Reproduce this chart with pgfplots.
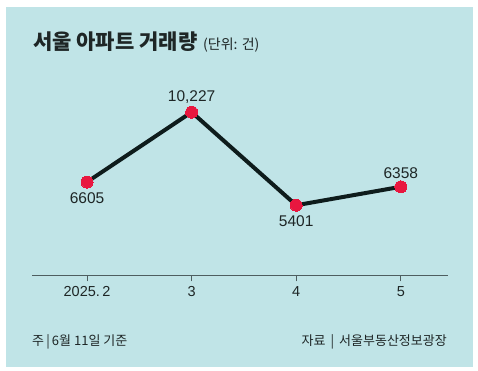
\documentclass[border=0pt]{standalone}
\usepackage{fontspec}
\setmainfont{Noto Sans CJK KR}
\newfontfamily\numfont{Liberation Sans}
\usepackage{pgfplots}
\pgfplotsset{compat=1.18}
\definecolor{bgc}{HTML}{C0E4E7}
\definecolor{linec}{HTML}{0E1C1C}
\definecolor{dotc}{HTML}{E8173F}
\definecolor{axc}{HTML}{4E5E60}
\definecolor{txt}{HTML}{1E2626}
\begin{document}
\begin{tikzpicture}[x=1pt,y=1pt]
\fill[white] (0,0) rectangle (478,371);
\fill[bgc] (6,4) rectangle (473,364);
\node[anchor=base west, inner sep=0, text=txt] at (33,321) {\fontsize{21}{24}\selectfont\bfseries 서울 아파트 거래량};
\node[anchor=base west, inner sep=0, text=txt] at (203,321) {\fontsize{14}{16}\selectfont (단위: 건)};
\node[anchor=base west, inner sep=0, text=txt] at (32,25) {\fontsize{13}{15}\selectfont 주{\,}|{\,}6월 11일 기준};
\node[anchor=base east, inner sep=0, text=txt] at (447,25) {\fontsize{13}{15}\selectfont 자료 \,|\, 서울부동산정보광장};
\begin{axis}[
  at={(32.3pt,95.7pt)}, anchor=south west,
  scale only axis, width=415.4pt, height=180pt,
  xmin=-0.523, xmax=3.448,
  ymin=1770, ymax=11100,
  axis x line=bottom, axis y line=none,
  axis line style={-, axc, line width=0.8pt},
  xtick={0,1,2,3},
  xticklabels={{2025.\,2},3,4,5},
  tick align=outside,
  major tick length=6pt,
  xtick style={axc, line width=0.8pt},
  x tick label style={font=\numfont\fontsize{14.5}{16}\selectfont, text=txt, yshift=-2pt},
  /pgf/number format/assume math mode=true,
  clip=false,
]
\addplot[linec, line width=4pt, no marks] coordinates {(0,6605) (1,10227) (2,5401) (3,6358)};
\addplot[only marks, mark=*, mark size=6pt, draw=dotc, fill=dotc, mark options={draw=dotc, fill=dotc, line width=0pt}] coordinates {(0,6605) (1,10227) (2,5401) (3,6358)};
\node[text=txt, font=\numfont\fontsize{15.5}{17}\selectfont] at (axis cs:0,6605) [yshift=-16.5pt] {6605};
\node[text=txt, font=\numfont\fontsize{15.5}{17}\selectfont] at (axis cs:1,10227) [yshift=15pt] {10,227};
\node[text=txt, font=\numfont\fontsize{15.5}{17}\selectfont] at (axis cs:2,5401) [yshift=-16pt] {5401};
\node[text=txt, font=\numfont\fontsize{15.5}{17}\selectfont] at (axis cs:3,6358) [yshift=14pt] {6358};
\end{axis}
\end{tikzpicture}
\end{document}
